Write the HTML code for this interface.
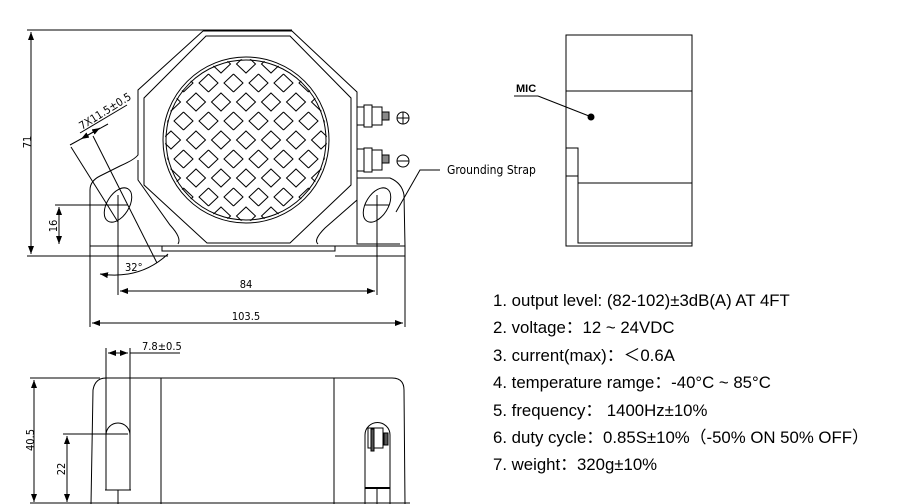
<!DOCTYPE html>
<html><head><meta charset="utf-8"><style>
html,body{margin:0;padding:0;background:#fff}
svg{display:block}
.t{font-family:"Liberation Sans",Arial,"Noto Sans CJK SC",sans-serif;font-size:16.8px;fill:#000}
.d{font-family:"DejaVu Sans Condensed","Liberation Sans Narrow","Liberation Sans",sans-serif;font-size:11px;fill:#000}
</style></head><body>
<svg width="899" height="504" viewBox="0 0 899 504" xmlns="http://www.w3.org/2000/svg">
<defs>
<pattern id="dia" width="25" height="38" patternUnits="userSpaceOnUse" x="233.5" y="121">
<path d="M12.5,10 L22,19 L12.5,28 L3,19 Z M0,-9 L9.5,0 L0,9 M25,-9 L15.5,0 L25,9 M0,29 L9.5,38 L0,47 M25,29 L15.5,38 L25,47" fill="none" stroke="#000" stroke-width="1"/>
</pattern>
<clipPath id="cc"><circle cx="246" cy="140" r="81"/></clipPath>
<marker id="ar" markerWidth="8" markerHeight="6" refX="8" refY="3" orient="auto-start-reverse" markerUnits="userSpaceOnUse"><path d="M0,0 L8,3 L0,6 Z" fill="#000"/></marker>
</defs>
<g fill="none" stroke="#000" stroke-width="1">
<line x1="27" y1="30" x2="292" y2="30"/>
<line x1="31" y1="32" x2="31" y2="254" marker-start="url(#ar)" marker-end="url(#ar)"/>
<line x1="27" y1="256" x2="168" y2="256"/>
<line x1="335" y1="256" x2="405" y2="256"/>
<path d="M203,31 L292,31 L357,92 L357,180"/>
<path d="M203,31 L138,90 L138,155 Q134,160 120,166 L100,176 Q90,181 90,190 L90,246"/>
<path d="M138,160 L138,180 L170,225 Q182,238 178,244"/>
<path d="M357,180 L357,200 L325,228 Q313,240 318,244"/>
<path d="M206,36 L290,36 L351,98 L351,185 L290,243 L207,243 L144,185 L144,98 Z"/>
<path d="M90,246 L405,246"/>
<path d="M90,246 L162,246 L162,251 L335,251 L335,246"/>
<path d="M357,178 L390,178 Q402,183 404,195 L405,246"/>
<path d="M357,178 L357,244 L400,244"/>
<circle cx="246" cy="140" r="83"/>
<circle cx="246" cy="140" r="80"/>
<rect x="160" y="55" width="175" height="170" fill="url(#dia)" clip-path="url(#cc)" stroke="none"/>
<ellipse cx="118" cy="205" rx="11" ry="19" transform="rotate(32 118 205)"/>
<ellipse cx="377" cy="205" rx="11" ry="19" transform="rotate(32 377 205)"/>
<line x1="104" y1="205" x2="128" y2="205"/><line x1="118" y1="195" x2="118" y2="295"/>
<line x1="365" y1="205" x2="389" y2="205"/><line x1="377" y1="195" x2="377" y2="295"/>
<line x1="55" y1="205" x2="104" y2="205"/>
<line x1="59" y1="207" x2="59" y2="244" marker-start="url(#ar)" marker-end="url(#ar)"/>
<line x1="120" y1="291" x2="375" y2="291" marker-start="url(#ar)" marker-end="url(#ar)"/>
<line x1="90" y1="246" x2="90" y2="327"/><line x1="405" y1="246" x2="405" y2="327"/>
<line x1="92" y1="323" x2="403" y2="323" marker-start="url(#ar)" marker-end="url(#ar)"/>
<line x1="70" y1="145" x2="108" y2="124"/>
<line x1="81" y1="139" x2="100" y2="128" marker-start="url(#ar)" marker-end="url(#ar)"/>
<line x1="71" y1="147" x2="118" y2="222"/>
<line x1="93" y1="136" x2="157" y2="263"/>
<line x1="80" y1="133" x2="127" y2="105"/>
<path d="M100,274 Q140,280 168,254" marker-start="url(#ar)"/>
<rect x="357" y="107" width="7" height="18"/><rect x="364" y="105" width="8" height="22"/><rect x="372" y="107" width="10" height="18"/>
<rect x="382" y="112" width="7" height="8" fill="#888"/>
<rect x="357" y="149" width="7" height="22"/><rect x="364" y="148" width="8" height="24"/><rect x="372" y="150" width="10" height="20"/>
<rect x="382" y="155" width="7" height="8" fill="#888"/>
<circle cx="403" cy="118" r="6"/><line x1="397" y1="118" x2="409" y2="118"/><line x1="403" y1="112" x2="403" y2="124"/>
<circle cx="403" cy="161" r="6"/><line x1="397" y1="161" x2="409" y2="161"/>
<path d="M396,212 L420,170 L440,170"/>
<rect x="566" y="35" width="126" height="211"/>
<line x1="566" y1="91" x2="692" y2="91"/>
<line x1="578" y1="183" x2="692" y2="183"/>
<path d="M566,148 L578,148 L578,243 L692,243"/>
<line x1="566" y1="176" x2="578" y2="176"/>
<line x1="514" y1="96" x2="538" y2="96"/>
<line x1="538" y1="96" x2="589" y2="116"/>
<line x1="30" y1="378" x2="100" y2="378"/>
<path d="M91,504 L93,390 Q95,378 106,378 L392,378 Q404,378 404,390 L405,504"/>
<line x1="161" y1="378" x2="161" y2="504"/><line x1="334" y1="378" x2="334" y2="504"/>
<line x1="34" y1="380" x2="34" y2="502" marker-start="url(#ar)" marker-end="url(#ar)"/>
<line x1="30" y1="503" x2="410" y2="503"/>
<path d="M106,490 L106,435 A12,12 0 0 1 130,435 L130,490"/>
<line x1="105" y1="490" x2="131" y2="490"/>
<line x1="106" y1="348" x2="106" y2="435"/><line x1="130" y1="348" x2="130" y2="435"/>
<line x1="108" y1="353" x2="128" y2="353" marker-start="url(#ar)" marker-end="url(#ar)"/>
<line x1="130" y1="353" x2="180" y2="353"/>
<line x1="63" y1="434" x2="128" y2="434"/>
<line x1="67" y1="436" x2="67" y2="502" marker-start="url(#ar)" marker-end="url(#ar)"/>
<line x1="118" y1="490" x2="118" y2="504"/>
<path d="M365,504 L365,435 A12,12 0 0 1 390,435 L390,504"/>
<rect x="368" y="428" width="15" height="20"/><rect x="371" y="429" width="3" height="22" fill="#555"/>
<rect x="384" y="433" width="4" height="12" fill="#555"/>
<line x1="365" y1="488" x2="390" y2="488" stroke-width="2"/>
<line x1="377" y1="488" x2="377" y2="504"/>
</g>
<g class="d">
<text x="31" y="142" transform="rotate(-90 31 142)" text-anchor="middle">71</text>
<text x="57" y="226" transform="rotate(-90 57 226)" text-anchor="middle">16</text>
<text x="246" y="288" text-anchor="middle">84</text>
<text x="246" y="320" text-anchor="middle">103.5</text>
<text x="125" y="271">32°</text>
<text x="82" y="130" transform="rotate(-32 82 130)">7X11.5±0.5</text>
<text x="447" y="174" font-size="12">Grounding  Strap</text>
<text x="142" y="350">7.8±0.5</text>
<text x="34" y="440" transform="rotate(-90 34 440)" text-anchor="middle">40.5</text>
<text x="65" y="469" transform="rotate(-90 65 469)" text-anchor="middle">22</text>
</g>
<text x="516" y="92" font-family="Liberation Sans,sans-serif" font-weight="bold" font-size="11">MIC</text>
<circle cx="591" cy="117" r="3.5" fill="#000"/>
<g class="t">
<text x="493" y="306">1. output level: (82-102)±3dB(A) AT 4FT</text>
<text x="493" y="333">2. voltage：12 ~ 24VDC</text>
<text x="493" y="361">3. current(max)：＜0.6A</text>
<text x="493" y="388">4. temperature ramge：-40°C ~  85°C</text>
<text x="493" y="416">5. frequency：  1400Hz±10%</text>
<text x="493" y="443">6. duty cycle：0.85S±10%（-50% ON 50% OFF）</text>
<text x="493" y="470">7. weight：320g±10%</text>
</g>
</svg>
</body></html>
